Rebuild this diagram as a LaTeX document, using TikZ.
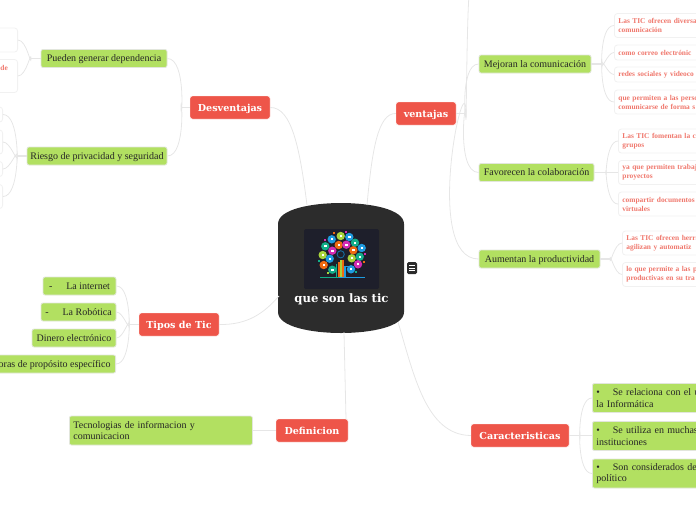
\documentclass[tikz,border=0pt]{standalone}
\usepackage{fontspec}
\setmainfont{Liberation Serif}
\newfontfamily\slabfont{DejaVu Serif}
\definecolor{leafgreen}{HTML}{B2E061}
\definecolor{leafedge}{HTML}{E2E6DC}
\definecolor{topicred}{HTML}{EE5549}
\definecolor{notered}{HTML}{F0776C}
\definecolor{paleedge}{HTML}{F1F1F1}
\definecolor{linkgray}{HTML}{E6E6E6}
\definecolor{rootdark}{HTML}{2C2C2C}
\definecolor{picdark}{HTML}{1E1F2B}
\definecolor{tlime}{HTML}{A8D43C}
\definecolor{tblue}{HTML}{1E9BE0}
\definecolor{tteal}{HTML}{12AE8A}
\definecolor{torange}{HTML}{EE6A12}
\definecolor{tpink}{HTML}{D42CB4}
\tikzset{
    link/.style={draw=linkgray, line width=0.8pt},
    stub/.style={draw=linkgray, line width=1.2pt},
    topic/.style={draw=white!90!topicred, fill=topicred, rounded corners=2.5pt, text=white, inner sep=0pt,
        text height=8.5pt, text depth=1pt, minimum height=23pt,
        font=\slabfont\bfseries\fontsize{9.6}{11}\selectfont},
    leaf/.style={draw=leafedge, line width=0.8pt, fill=leafgreen, rounded corners=2pt, text=black!85, inner sep=0pt,
        font=\fontsize{10}{11.4}\selectfont},
    shortleaf/.style={leaf, minimum height=18pt, text height=8pt, text depth=1.4pt},
    wideleaf/.style={leaf, anchor=west, align=left, inner xsep=4pt},
    note/.style={draw=paleedge, line width=0.8pt, fill=white, rounded corners=3pt, text=notered, anchor=west, align=left,
        inner xsep=4pt, inner ysep=0pt, text width=150pt,
        font=\bfseries\fontsize{7.4}{9}\selectfont},
    hidden/.style={draw=paleedge, line width=0.8pt, fill=white, rounded corners=3pt, anchor=east, inner sep=0pt}
}
\begin{document}
\begin{tikzpicture}[x=1pt, y=-1pt]
    \useasboundingbox (0, 0) rectangle (696, 520);
    \clip (0, 0) rectangle (696, 520);

    % root
    \fill[rootdark] (278, 224) .. controls (278, 209) and (312, 203) .. (341, 203)
        .. controls (370, 203) and (404, 209) .. (404, 224)
        -- (404, 312) .. controls (404, 327) and (370, 333) .. (341, 333)
        .. controls (312, 333) and (278, 327) .. (278, 312) -- cycle;
    \node[fill=picdark, rounded corners=1.5pt, minimum width=75pt, minimum height=60pt, inner sep=0pt] at (341.5, 259) (rootpic) {};
    \node[text=white, inner sep=0pt, font=\slabfont\bfseries\fontsize{11.6}{13}\selectfont] at (341.5, 299.5) (root) {que son las tic};

    % tree of the picture
    \draw[tteal, line width=1.5pt] (320, 277.7) -- (339, 277.7);
    \draw[tblue, line width=1.5pt] (339, 277.7) -- (365, 277.7);
    \draw[tteal, line width=1.2pt] (336.5, 277) -- (336.5, 264);
    \draw[torange, line width=1.2pt] (339, 277) -- (339, 262);
    \draw[tlime, line width=1.2pt] (341, 277) -- (341, 260);
    \draw[torange, line width=1.2pt] (343, 277) -- (343, 260);
    \draw[tblue, line width=1.2pt] (345, 277) -- (345, 266.5) -- (349, 266.5);
    \foreach \cx/\cy/\col in {340.7/236/tlime, 331.7/239.3/tblue, 349.3/237/tblue, 325.3/246.3/tteal,
        338.7/245/torange, 346.3/244.7/tpink, 355/242.7/tteal, 361.7/248/tblue, 353.3/250.3/torange,
        332.3/250.7/tpink, 322.7/255/tlime, 329.7/258.7/tblue, 351.7/258.3/tlime, 359.7/256.7/tteal,
        323.7/265/torange, 358/264.3/tpink, 332.3/269.7/tteal, 351/269.3/tblue} {
        \fill[\col] (\cx, \cy) circle (4.2pt);
        \fill[white] (\cx-1.2, \cy-1) rectangle (\cx+1.2, \cy+1);
    }
    \draw[tblue!70!black, line width=0.9pt] (340.7, 254.3) circle (3.6pt);
    \foreach \cx/\cy/\col in {345.7/232.3/tpink, 325/240/tpink, 334/233/torange, 365/254/tpink,
        319/261/tteal, 364/262/torange, 328/273/tlime, 356/272/tteal} {
        \fill[\col] (\cx-1, \cy-1) rectangle (\cx+1, \cy+1);
    }

    % menu icon beside the root
    \node[fill=rootdark, rounded corners=1.5pt, minimum width=10pt, minimum height=12pt, inner sep=0pt] at (412, 268) (menuicon) {};
    \foreach \dy in {-2.5, 0, 2.5}
        \draw[white, line width=0.9pt] ([xshift=-3pt, yshift=\dy pt]menuicon.center) -- ([xshift=3pt, yshift=\dy pt]menuicon.center);

    % main topics
    \node[topic, minimum width=80pt] at (230, 107.5) (desventajas) {Desventajas};
    \node[topic, minimum width=60pt] at (426, 113.5) (ventajas) {ventajas};
    \node[topic, minimum width=80pt] at (179, 324.5) (tipos) {Tipos de Tic};
    \node[topic, minimum width=72pt] at (312, 430.5) (definicion) {Definicion};
    \node[topic, minimum width=98pt] at (520, 435.5) (caracteristicas) {Caracteristicas};

    % left side
    \node[shortleaf, minimum width=126pt] at (104, 58.5) (dependencia) {Pueden generar dependencia};
    \node[shortleaf, minimum width=140pt] at (97, 156) (riesgo) {Riesgo de privacidad y seguridad};
    \node[hidden, minimum width=60pt, minimum height=24pt] at (18, 40) (depa) {};
    \node[hidden, minimum width=60pt, minimum height=33pt] at (18, 76) (depb) {};
    \node[text=notered, anchor=east, inner sep=0pt, font=\bfseries\fontsize{7.4}{9}\selectfont] at (8, 67.5) (depbtext) {de};
    \node[hidden, minimum width=60pt, minimum height=15pt] at (3, 114.5) (riesa) {};
    \node[hidden, minimum width=60pt, minimum height=24pt] at (3, 142) (riesb) {};
    \node[hidden, minimum width=60pt, minimum height=15pt] at (3, 169) (riesc) {};
    \node[hidden, minimum width=60pt, minimum height=24pt] at (3, 196.5) (riesd) {};

    \node[shortleaf, minimum width=73pt] at (79.5, 286) (internet) {-\hspace{14pt}La internet};
    \node[shortleaf, minimum width=75pt] at (78.5, 312) (robotica) {-\hspace{14pt}La Robótica};
    \node[shortleaf, minimum width=84pt] at (74, 338) (dinero) {Dinero electrónico};
    \node[shortleaf, anchor=east, inner xsep=5pt] at (116, 364) (computadoras) {Computadoras de propósito específico};
    \node[wideleaf, text width=175pt, minimum height=29pt] at (69, 430.5) (tecnologias) {Tecnologias de informacion y\\comunicacion};

    % right side
    \node[shortleaf, minimum width=112pt] at (535, 64) (mejoran) {Mejoran la comunicación};
    \node[shortleaf, minimum width=115pt] at (536.5, 172.5) (favorecen) {Favorecen la colaboración};
    \node[shortleaf, minimum width=121pt] at (539.5, 259) (aumentan) {Aumentan la productividad};

    \node[note, minimum height=24pt] at (614, 25.5) (coma) {Las TIC ofrecen diversas\\comunicación};
    \node[note, minimum height=15pt] at (614, 52.5) (comb) {como correo electrónic};
    \node[note, minimum height=15pt] at (614, 74.5) (comc) {redes sociales y videoco};
    \node[note, minimum height=24pt] at (614, 102) (comd) {que permiten a las perso\\comunicarse de forma s};
    \node[note, minimum height=24pt] at (618, 141) (cola) {Las TIC fomentan la co\\grupos};
    \node[note, minimum height=24pt] at (618, 172.5) (colb) {ya que permiten trabaj\\proyectos};
    \node[note, minimum height=24pt] at (618, 204) (colc) {compartir documentos\\virtuales};
    \node[note, minimum height=24pt] at (622, 243) (proa) {Las TIC ofrecen herra\\agilizan y automatiz};
    \node[note, minimum height=24pt] at (622, 274.5) (prob) {lo que permite a las p\\productivas en su tra};

    \node[wideleaf, text width=130pt, minimum height=29pt] at (592, 398) (relaciona) {•\hspace{13pt}Se relaciona con el us\\la Informática};
    \node[wideleaf, text width=130pt, minimum height=29pt] at (592, 436) (utiliza) {•\hspace{13pt}Se utiliza en muchas\\instituciones};
    \node[wideleaf, text width=130pt, minimum height=29pt] at (592, 473.5) (considerados) {•\hspace{13pt}Son considerados de\\político};

    % forks
    \coordinate (desfork) at (181, 107.5);
    \coordinate (depfork) at (31, 58.5);
    \coordinate (riesfork) at (17, 156);
    \coordinate (tipfork) at (129, 324.5);
    \coordinate (venfork) at (466, 113.5);
    \coordinate (venend) at (471, -3);
    \coordinate (mejfork) at (602, 64);
    \coordinate (favfork) at (606, 172.5);
    \coordinate (aumfork) at (610, 259);
    \coordinate (carfork) at (580, 435.5);

    \draw[stub] (desventajas) -- (desfork);
    \draw[stub] (dependencia) -- (depfork);
    \draw[stub] (riesgo) -- (riesfork);
    \draw[stub] (tipos) -- (tipfork);
    \draw[stub] (ventajas) -- (venfork);
    \draw[stub] (mejoran) -- (mejfork);
    \draw[stub] (favorecen) -- (favfork);
    \draw[stub] (aumentan) -- (aumfork);
    \draw[stub] (caracteristicas) -- (carfork);
    \draw[stub] (definicion) -- (tecnologias);

    \foreach \kid/\dir in {dependencia/-90, riesgo/90}
        \draw[link] (desfork) to[out=\dir, in=0] (\kid.east);
    \foreach \kid/\dir in {depa/-90, depb/90}
        \draw[link] (depfork) to[out=\dir, in=0] (\kid.east);
    \foreach \kid/\dir in {riesa/-90, riesb/-90, riesc/90, riesd/90}
        \draw[link] (riesfork) to[out=\dir, in=0] (\kid.east);
    \foreach \kid/\dir in {internet/-90, robotica/-90, dinero/90, computadoras/90}
        \draw[link] (tipfork) to[out=\dir, in=0] (\kid.east);
    \foreach \kid/\dir in {mejoran/-90, favorecen/90, aumentan/90}
        \draw[link] (venfork) to[out=\dir, in=180] (\kid.west);
    \draw[link] (venfork) to[out=-90, in=95] (venend);
    \foreach \kid/\dir in {coma/-90, comb/-90, comc/90, comd/90}
        \draw[link] (mejfork) to[out=\dir, in=180] (\kid.west);
    \foreach \kid/\dir in {cola/-90, colc/90}
        \draw[link] (favfork) to[out=\dir, in=180] (\kid.west);
    \draw[link] (favfork) -- (colb);
    \foreach \kid/\dir in {proa/-90, prob/90}
        \draw[link] (aumfork) to[out=\dir, in=180] (\kid.west);
    \foreach \kid/\dir in {relaciona/-90, considerados/90}
        \draw[link] (carfork) to[out=\dir, in=180] (\kid.west);
    \draw[link] (carfork) -- (utiliza);

    % root to topics
    \coordinate (rootdes) at (307, 205);
    \coordinate (rootven) at (367, 205);
    \coordinate (roottip) at (279, 296);
    \coordinate (rootdef) at (344, 332);
    \coordinate (rootcar) at (398, 322);
    \draw[link] (desventajas.east) .. controls (292, 107) and (300, 150) .. (rootdes);
    \draw[link] (ventajas.west) .. controls (378, 113) and (372, 150) .. (rootven);
    \draw[link] (tipos.east) .. controls (248, 325) and (264, 313) .. (roottip);
    \draw[link] (rootdef) -- (346, 419);
    \draw[link] (rootcar) .. controls (414, 375) and (426, 435) .. (caracteristicas.west);
\end{tikzpicture}
\end{document}
